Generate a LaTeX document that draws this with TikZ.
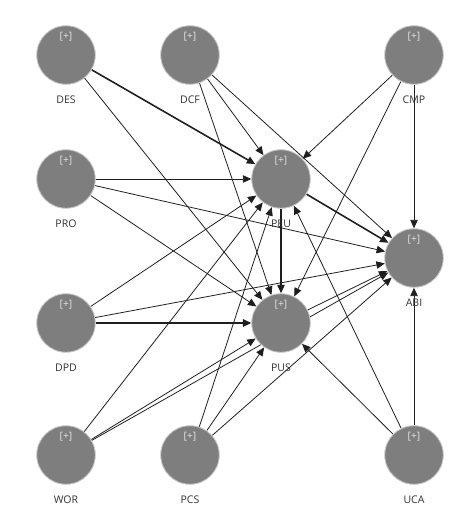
\documentclass[tikz,border=0pt]{standalone}
\usepackage{fontspec}
\setmainfont{Open Sans}
\usetikzlibrary{arrows.meta,backgrounds}

\definecolor{lvfill}{RGB}{126,126,126}
\definecolor{lvrim}{RGB}{196,196,196}
\definecolor{plustext}{RGB}{228,228,228}
\definecolor{nametext}{RGB}{50,50,50}
\definecolor{pathcol}{RGB}{30,30,30}

\begin{document}
\begin{tikzpicture}[x=0.02cm, y=-0.02cm,
    >={Triangle[length=4.8pt,width=4.2pt]},
    lv/.style={circle, fill=lvfill, draw=lvrim, line width=0.5pt,
        minimum size=1.17cm, inner sep=0pt, label={[plus]center:[+]}},
    plus/.style={yshift=0.36cm, text=plustext, font=\fontsize{5.8}{6}\selectfont},
    nm/.style={yshift=-0.9cm, text=nametext, font=\fontsize{6}{7}\selectfont},
    path/.style={->, draw=pathcol, line width=0.45pt},
    mid/.style={path, line width=0.75pt},
    strong/.style={path, line width=0.9pt}]
    \useasboundingbox (0,0) rectangle (474,527);

    % latent variables
    \node[lv, label={[nm]center:DES}] (DES) at (66,55) {};
    \node[lv, label={[nm]center:DCF}] (DCF) at (190,55) {};
    \node[lv, label={[nm]center:CMP}] (CMP) at (414,55) {};
    \node[lv, label={[nm]center:PRO}] (PRO) at (66,179) {};
    \node[lv, label={[nm]center:PEU}] (PEU) at (281,179) {};
    \node[lv, label={[nm]center:ABI}] (ABI) at (414,258) {};
    \node[lv, label={[nm]center:DPD}] (DPD) at (66,323) {};
    \node[lv, label={[nm]center:PUS}] (PUS) at (281,323) {};
    \node[lv, label={[nm]center:WOR}] (WOR) at (66,455) {};
    \node[lv, label={[nm]center:PCS}] (PCS) at (190,455) {};
    \node[lv, label={[nm]center:UCA}] (UCA) at (414,455) {};

    % paths
    \begin{scope}[on background layer]
    \draw[strong] (DES) -- (PEU);
    \draw[path] (DES) -- (PUS);

    \draw[path] (DCF) -- (PEU);
    \draw[path] (DCF) -- (PUS);
    \draw[path] (DCF) -- (ABI);

    \draw[path] (CMP) -- (PEU);
    \draw[path] (CMP) -- (PUS);
    \draw[path] (CMP) -- (ABI);

    \draw[path] (PRO) -- (PEU);
    \draw[path] (PRO) -- (PUS);
    \draw[path] (PRO) -- (ABI);

    \draw[path] (DPD) -- (PEU);
    \draw[strong] (DPD) -- (PUS);
    \draw[path] (DPD) -- (ABI);

    \draw[path] (WOR) -- (PEU);
    \draw[path] (WOR) -- (PUS);
    \draw[path] (WOR) -- (ABI);

    \draw[path] (PCS) -- (PEU);
    \draw[path] (PCS) -- (PUS);
    \draw[path] (PCS) -- (ABI);

    \draw[path] (UCA) -- (PEU);
    \draw[path] (UCA) -- (PUS);
    \draw[path] (UCA) -- (ABI);

    \draw[mid] (PEU) -- (PUS);
    \draw[strong] (PEU) -- (ABI);
    \draw[path] (PUS) -- (ABI);
    \end{scope}
\end{tikzpicture}
\end{document}
